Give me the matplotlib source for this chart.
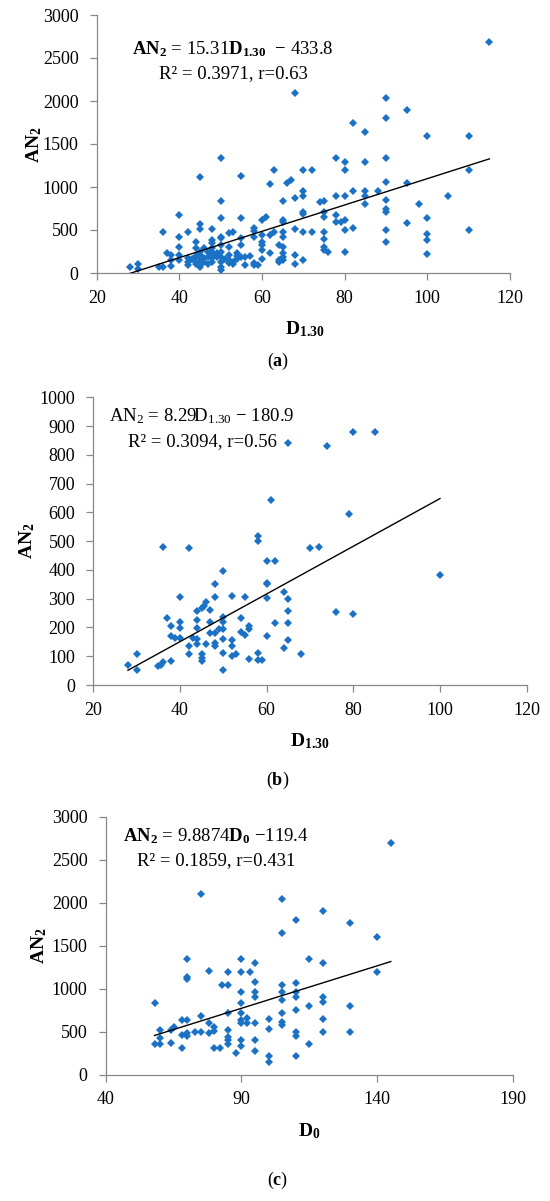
import matplotlib
matplotlib.use('Agg')
import matplotlib.pyplot as plt
import numpy as np

plt.rcParams['font.family'] = ['Liberation Serif', 'DejaVu Serif']
plt.rcParams['mathtext.fontset'] = 'custom'
plt.rcParams['mathtext.rm'] = 'Liberation Serif'
plt.rcParams['mathtext.it'] = 'Liberation Serif:italic'
plt.rcParams['mathtext.bf'] = 'Liberation Serif:bold'

# panel (a): D1.30 vs AN2
a_d130 = [28, 30, 30, 35, 36, 36, 37, 38, 38, 38, 40, 40, 40, 40, 40, 42, 42, 42, 42, 44,
          44, 44, 45, 45, 45, 45, 45, 45, 45, 45, 45, 46, 46, 47, 47, 48, 48, 48, 48, 48,
          48, 48, 48, 49, 50, 50, 50, 50, 50, 50, 50, 50, 50, 50, 50, 52, 52, 52, 52, 52,
          53, 53, 54, 54, 55, 55, 55, 55, 55, 56, 56, 58, 58, 58, 58, 58, 59, 60, 60, 60,
          60, 60, 60, 61, 62, 62, 62, 63, 63, 64, 64, 64, 65, 65, 65, 65, 65, 65, 65, 65,
          65, 66, 67, 68, 68, 68, 68, 68, 70, 70, 70, 70, 70, 70, 70, 72, 72, 74, 75, 75,
          75, 75, 75, 75, 75, 76, 78, 78, 78, 78, 79, 80, 80, 80, 80, 80, 80, 82, 82, 82,
          85, 85, 85, 85, 85, 88, 90, 90, 90, 90, 90, 90, 90, 90, 90, 95, 95, 95, 98, 100,
          100, 100, 100, 100, 105, 110, 110, 110, 115, 43, 44, 46, 47, 49, 51, 53, 54, 57, 44]
a_an2 = [70, 100, 50, 70, 70, 477, 237, 205, 80, 150, 680, 420, 300, 205, 150, 477, 170, 130, 90, 360,
         287, 130, 1118, 567, 516, 250, 209, 170, 130, 93, 74, 287, 170, 190, 240, 516, 380, 345, 290, 250,
         210, 170, 130, 190, 1343, 838, 643, 420, 403, 325, 248, 190, 132, 74, 35, 461, 306, 209, 150, 112,
         480, 130, 230, 200, 1130, 643, 403, 325, 190, 93, 185, 519, 488, 422, 112, 90, 93, 616, 442, 364,
         325, 272, 167, 655, 1040, 442, 229, 480, 1203, 325, 128, 150, 837, 616, 594, 477, 420, 300, 237, 190,
         150, 1048, 1079, 2095, 877, 516, 205, 100, 1195, 955, 892, 710, 690, 477, 155, 1195, 477, 827, 838, 710,
         652, 477, 400, 300, 264, 245, 1343, 892, 671, 594, 594, 1292, 1195, 892, 613, 497, 245, 1750, 955, 528,
         1640, 1292, 955, 892, 800, 955, 2037, 1797, 1343, 1055, 846, 749, 710, 497, 360, 1894, 1048, 582, 800, 1595,
         644, 458, 380, 217, 892, 1595, 1195, 497, 2690, 160, 200, 130, 110, 230, 160, 100, 160, 200, 110]
a_fit = [15.31, -433.8]

# panel (b): D1.30 vs AN2
b_d130 = [28, 30, 30, 35, 35.6, 36, 36, 37, 38, 38, 38, 38.8, 40, 40, 40, 40, 42, 42, 42, 43,
          44, 44, 44, 44, 44, 45, 45, 45, 45, 45.5, 46, 46, 47, 47, 47, 48, 48, 48, 48, 48,
          49, 50, 50, 50, 50, 50, 50, 50, 52, 52, 52, 52, 53, 54, 54, 55, 55, 56, 56, 56,
          58, 58, 58, 58, 59, 60, 60, 60, 60, 60, 61, 62, 62, 64, 64, 65, 65, 65, 65, 65,
          68, 70, 72, 74, 76, 79, 80, 80, 85, 100]
b_an2 = [71, 108, 53, 67, 71, 79, 479, 233, 204, 169, 84, 163, 306, 218, 198, 163, 476, 137, 108, 163,
         258, 225, 198, 160, 144, 267, 109, 94, 82, 273, 287, 142, 259, 218, 180, 352, 306, 146, 134, 180,
         194, 395, 238, 218, 194, 160, 111, 53, 310, 155, 134, 100, 109, 233, 184, 306, 175, 194, 206, 90,
         519, 502, 111, 88, 88, 432, 356, 352, 304, 169, 643, 432, 215, 322, 128, 840, 300, 256, 215, 155,
         108, 476, 479, 829, 252, 594, 881, 247, 881, 383]
b_fit = [8.29, -180.9]

# panel (c): D0 vs AN2
c_d0 = [58, 58, 60, 60, 60, 64, 65, 64, 68, 68, 68, 70, 70, 70, 70, 70, 70, 73, 75, 75,
        75, 78, 78, 78, 80, 80, 80, 82, 83, 85, 85, 85, 85, 85, 85, 85, 88, 90, 90, 90,
        90, 90, 90, 90, 90, 90, 92, 93, 92, 95, 95, 95, 95, 95, 95, 95, 100, 100, 100, 100,
        105, 105, 105, 105, 105, 105, 105, 105, 110, 110, 110, 110, 110, 110, 110, 110, 115, 115, 115, 120,
        120, 120, 120, 120, 120, 130, 130, 130, 140, 140, 145]
c_an2 = [837, 357, 519, 422, 357, 372, 558, 519, 636, 461, 314, 1345, 1132, 1112, 636, 480, 450, 500, 2100, 682,
         500, 1209, 597, 480, 558, 512, 306, 306, 1043, 1198, 1043, 713, 519, 442, 357, 403, 256, 1345, 1198, 957,
         837, 713, 636, 597, 403, 326, 655, 1198, 597, 1302, 1081, 957, 899, 597, 403, 279, 647, 527, 217, 151,
         2039, 1643, 1043, 957, 868, 713, 616, 578, 1798, 1062, 957, 899, 752, 500, 450, 217, 1345, 798, 357, 1903,
         1302, 899, 849, 647, 500, 1760, 798, 500, 1597, 1198, 2698]
c_fit = [9.8874, -119.4]

W, H = 550, 1201
MARKER_COLOR = '#1b72c5'
AXIS_COLOR = '#888888'


def fig_xy(x, y):
    return x / W, 1 - y / H


def add_panel(fig, left, top, right, bottom):
    return fig.add_axes([left / W, 1 - bottom / H, (right - left) / W, (bottom - top) / H])


def draw(ax, xs, ys, fit, xlim, ylim, xticks, yticks):
    ax.plot(xs, ys, linestyle='none', marker='D', markersize=4.3,
            color=MARKER_COLOR, markeredgewidth=0, zorder=3)
    lx = np.array([min(xs), max(xs)])
    ax.plot(lx, fit[0] * lx + fit[1], color='black', linewidth=1.0, zorder=4)
    ax.set_xlim(*xlim)
    ax.set_ylim(*ylim)
    ax.set_xticks(xticks)
    ax.set_yticks(yticks)
    for side in ('top', 'right'):
        ax.spines[side].set_visible(False)
    for side in ('left', 'bottom'):
        ax.spines[side].set_color(AXIS_COLOR)
        ax.spines[side].set_linewidth(0.9)
    ax.tick_params(axis='both', direction='out', length=5, width=0.9,
                   color=AXIS_COLOR, labelsize=13, labelcolor='black')
    ax.tick_params(axis='y', pad=8)
    ax.tick_params(axis='x', pad=7)
    for lbl in ax.get_xticklabels() + ax.get_yticklabels():
        lbl.set_clip_on(False)


fig = plt.figure(figsize=(5.5, 12.01), dpi=100)

ax_a = add_panel(fig, 96.7, 15, 510, 273)
draw(ax_a, a_d130, a_an2, a_fit, (20, 120), (0, 3000), range(20, 121, 20), range(0, 3001, 500))
ax_b = add_panel(fig, 93.3, 397.3, 526.7, 685)
draw(ax_b, b_d130, b_an2, b_fit, (20, 120), (0, 1000), range(20, 121, 20), range(0, 1001, 100))
ax_c = add_panel(fig, 105.7, 816.7, 513, 1074.5)
draw(ax_c, c_d0, c_an2, c_fit, (40, 190), (0, 3000), range(40, 191, 50), range(0, 3001, 500))

# equations
fig.text(*fig_xy(233, 54), r'$\mathbf{AN_2}$ = 15.31$\mathbf{D_{1.30}}$  − 433.8',
         ha='center', va='baseline', fontsize=13.5)
fig.text(*fig_xy(233, 78), 'R² = 0.3971, r=0.63', ha='center', va='baseline', fontsize=13.5)
fig.text(*fig_xy(202, 421), r'AN$_2$ = 8.29D$_{1.30}$ − 180.9',
         ha='center', va='baseline', fontsize=13.5)
fig.text(*fig_xy(202, 446), 'R² = 0.3094, r=0.56', ha='center', va='baseline', fontsize=13.5)
fig.text(*fig_xy(216, 841), r'$\mathbf{AN_2}$ = 9.8874$\mathbf{D_0}$ −119.4',
         ha='center', va='baseline', fontsize=13.5)
fig.text(*fig_xy(216, 865), 'R² = 0.1859, r=0.431', ha='center', va='baseline', fontsize=13.5)

# axis titles
for x, y, s in [(34, 145, r'$\mathbf{AN_2}$'), (27, 541, r'$\mathbf{AN_2}$'), (39, 946, r'$\mathbf{AN_2}$')]:
    fig.text(*fig_xy(x, y), s, rotation=90, ha='center', va='center', fontsize=14)
for x, y, s in [(305, 334, r'$\mathbf{D_{1.30}}$'), (310, 746, r'$\mathbf{D_{1.30}}$'),
                (309, 1136, r'$\mathbf{D_0}$')]:
    fig.text(*fig_xy(x, y), s, ha='center', va='baseline', fontsize=14)

# panel letters
for y, s in [(366, 'a'), (785, 'b'), (1185, 'c')]:
    fig.text(*fig_xy(278, y), '($\\mathbf{' + s + '}$)', ha='center', va='baseline', fontsize=13)

fig.savefig('out.png', dpi=100, facecolor='white')
